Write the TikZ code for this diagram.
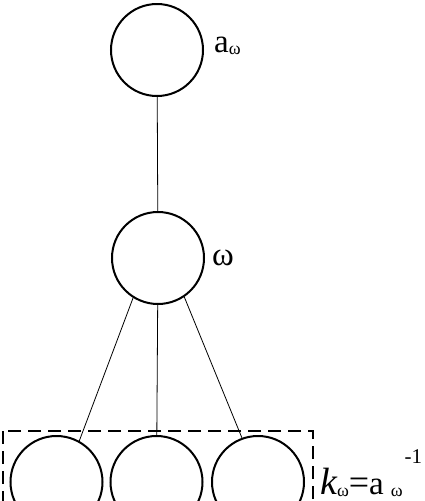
\documentclass[tikz,border=0pt]{standalone}
\usepackage{fontspec}
\setmainfont{Liberation Serif}
\newcommand{\lowsym}[1]{\raisebox{-2pt}{\fontsize{18}{18}\selectfont #1}}
\newcommand{\highsym}[1]{\raisebox{31pt}{\fontsize{21}{21}\selectfont #1}}
\begin{document}
\begin{tikzpicture}[x=1pt, y=-1pt, every node/.append style={text=black, font=\fontsize{33}{33}\selectfont}]
\useasboundingbox (0,0) rectangle (425,501);
\tikzset{unit/.style={draw, circle, line width=2pt, minimum size=92pt, inner sep=0pt}}
	\node[unit] (top) at (157,50) {};
	\node[unit] (mid) at (158,258) {};
	\foreach \x/\l in {56.5/1, 156.5/2, 258/3}
	{
		\node[unit] (b\l) at (\x,482) {};
	}

	\draw[line width=0.8pt] (top) -- (mid);
	\draw[line width=0.8pt] (mid.238) -- (b1.61);
	\draw[line width=0.8pt] (mid) -- (b2);
	\draw[line width=0.8pt] (mid.304) -- (b3.110);

	\draw[line width=2pt, dash pattern=on 13pt off 7pt] (3,431) rectangle (313,520);

	\node[anchor=base west, inner sep=0pt] (la) at (214,52) {a\lowsym{ω}};
	\node[anchor=base west, inner sep=0pt] (lw) at (212,265) {ω};
	\node[anchor=base west, inner sep=0pt] (lk) at (320,494)
		{{\fontsize{38}{38}\selectfont\itshape k}\lowsym{ω}{\fontsize{36}{36}\selectfont =}a\hspace{7pt}\lowsym{ω}\hspace{2pt}\highsym{-1}};
\end{tikzpicture}
\end{document}
